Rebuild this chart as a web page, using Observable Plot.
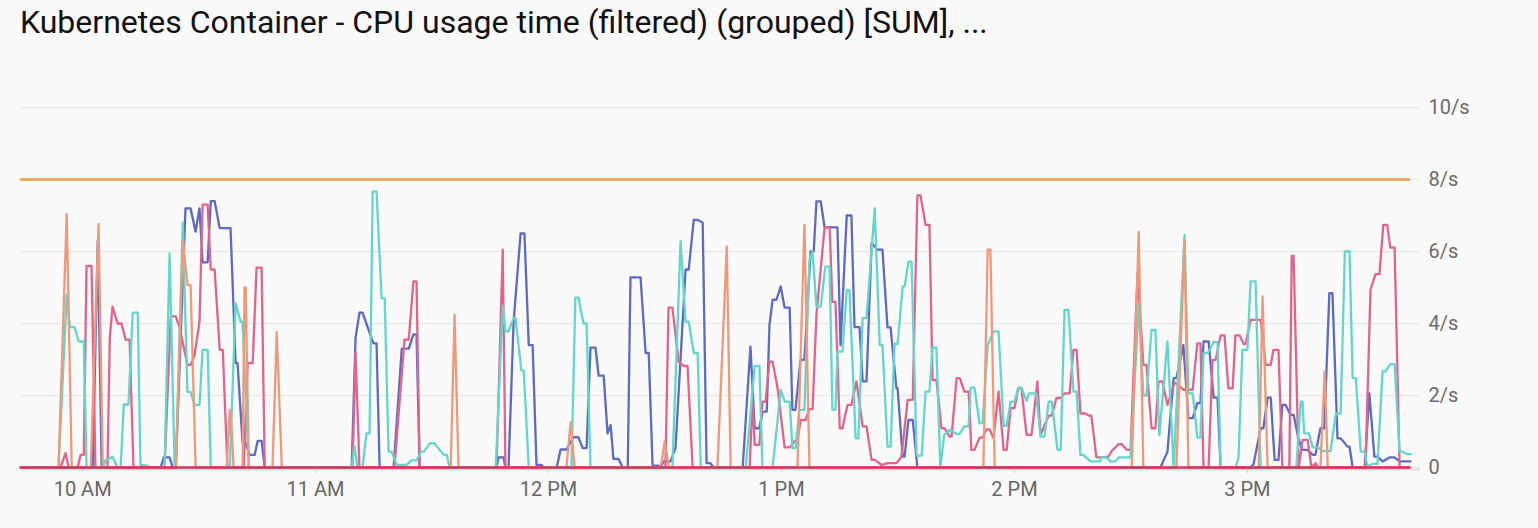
<!DOCTYPE html>
<html>
<head>
<meta charset="utf-8">
<script src="https://cdn.jsdelivr.net/npm/d3@7"></script>
<script src="https://cdn.jsdelivr.net/npm/@observablehq/plot@0.6"></script>
<style>
  html, body { margin: 0; padding: 0; background: #fafafa; }
  body { font-family: Roboto, "Noto Sans", sans-serif; width: 1538px; height: 528px; overflow: hidden; }
  #title { height: 50px; line-height: 44px; padding-left: 20px; font-size: 32px; color: #111; white-space: nowrap; }
  #chart svg { display: block; }
</style>
</head>
<body>
<div id="title">Kubernetes Container - CPU usage time (filtered) (grouped) [SUM], ...</div>
<div id="chart"></div>
<script>
// Time axis: minutes after 10:00 AM
const domainMinutes = [-16, 342];
const hourTickMinutes = [0, 60, 120, 180, 240, 300];
const yTickValues = [0, 2, 4, 6, 8, 10];
const limitValue = [8];
const floorValue = [0];

// Series: [minutes after 10 AM, CPU seconds per second]
const indigoSeries = [[-16,0],[2.6,0],[3.9,6.3],[4.9,0],[20.1,0],[20.9,0.28],[22.4,0.28],[23.2,0],[24.0,0],[26.5,7.2],[27.8,7.2],[29.1,6.55],[30.1,7.2],[30.9,5.7],[32.2,5.7],[33.0,7.4],[34.0,7.4],[35.3,6.65],[38.1,6.65],[39.4,2.9],[39.9,2.9],[41.2,0.68],[42.0,0.68],[43.0,0.35],[44.3,0.35],[45.1,0.74],[46.1,0.74],[46.9,0],[69.3,0],[70.3,3.6],[71.3,4.3],[72.1,4.3],[73.4,3.9],[74.9,3.45],[75.7,3.45],[76.5,0],[80.1,0],[82.2,3.3],[84.0,3.3],[85.2,3.7],[86.0,3.7],[86.8,0],[106.6,0],[107.1,0.28],[108.4,0.28],[108.9,0],[109.7,0],[111.0,4.05],[112.8,6.5],[113.8,6.5],[114.9,3.4],[115.9,3.4],[116.9,0.07],[118.2,0.07],[118.7,0],[122.1,0],[123.1,0.5],[124.6,0.5],[126.4,0.84],[127.7,0.84],[128.8,0.54],[129.8,0.54],[130.8,3.33],[132.1,3.33],[132.9,2.55],[134.2,2.55],[135.2,0.95],[136.0,1.18],[136.7,0.24],[138.0,0.24],[139.1,0],[140.4,0],[141.1,5.28],[143.7,5.28],[145.0,3.18],[145.8,3.18],[146.8,0.05],[148.3,0.05],[148.9,0],[149.6,0.17],[151.4,0.17],[152.7,0.54],[155.3,5.5],[156.1,5.5],[157.4,6.88],[158.4,6.88],[159.7,6.8],[160.7,0.12],[161.7,0.12],[162.5,0],[170.0,0],[172.0,3.36],[173.1,1.09],[174.3,1.09],[175.1,1.55],[176.2,1.55],[176.9,3.96],[177.7,4.66],[178.7,4.66],[179.8,5.03],[180.8,4.44],[182.1,4.44],[182.8,1.6],[183.6,1.6],[184.9,2.99],[185.9,2.99],[187.5,6.0],[188.3,6.0],[189.0,7.39],[190.1,7.39],[191.1,6.67],[194.4,6.67],[195.2,3.4],[196.8,7.0],[198.0,7.0],[198.8,3.9],[200.1,3.9],[200.9,2.39],[201.9,2.39],[203.2,6.23],[204.7,6.05],[206.0,6.05],[207.3,3.89],[208.1,3.89],[209.6,2.2],[209.9,2.2],[211.2,0.3],[211.7,0.3],[212.7,1.32],[213.8,1.32],[215.0,0],[277.6,0],[279.4,0.44],[281.0,2.48],[281.7,2.48],[283.5,3.4],[284.8,1.37],[285.9,1.37],[287.1,1.79],[287.9,1.79],[288.7,3.5],[290.0,3.5],[291.3,1.94],[292.3,1.94],[293.1,0],[300.8,0],[301.6,0.1],[303.4,1.09],[304.1,1.09],[305.2,1.94],[306.0,1.94],[307.0,0.21],[308.0,0.21],[309.0,1.74],[309.8,1.74],[311.1,1.46],[311.9,1.46],[313.2,0.77],[314.2,0.49],[315.5,0.49],[316.8,0.35],[317.5,0.35],[318.8,1.09],[319.8,1.09],[321.1,4.84],[321.9,4.84],[323.2,0.81],[324.0,0.81],[325.8,0.58],[326.3,0.58],[327.1,0],[330.2,0],[331.4,2.06],[332.7,0.3],[333.5,0.3],[334.8,0.17],[336.6,0.28],[337.9,0.28],[339.2,0.17],[342,0.17]];

const roseSeries = [[-16,0],[-5.7,0],[-4.4,0.4],[-3.6,0],[-1.3,0],[-0.5,0.35],[0.3,0.35],[1.0,5.6],[2.3,5.6],[3.3,0],[6.4,0],[7.0,3.6],[7.7,4.47],[9.0,4.0],[10.0,4.0],[11.1,3.55],[12.1,3.55],[13.1,0],[21.1,0],[22.7,4.2],[24.0,4.2],[25.0,3.87],[27.0,2.85],[27.8,2.85],[28.8,3.1],[30.1,4.05],[30.9,7.3],[32.2,7.3],[33.0,5.5],[34.0,5.5],[35.3,3.27],[36.1,3.27],[37.3,0],[41.5,0],[42.5,2.9],[43.8,2.9],[44.8,5.55],[46.1,5.55],[46.9,0],[69.5,0],[70.3,3.2],[71.3,0],[80.3,0],[82.9,3.55],[84.0,3.55],[85.2,5.17],[86.0,5.17],[86.8,0],[106.6,0],[108.2,6.05],[108.9,0],[150.1,0],[150.9,4.44],[151.9,4.44],[153.5,2.94],[154.8,2.82],[155.8,2.82],[157.1,0],[171.8,0],[172.5,1.83],[173.1,0.63],[174.3,0.63],[175.1,1.83],[175.9,1.83],[176.9,2.94],[177.7,2.94],[179.0,2.2],[180.8,0.56],[182.1,0.56],[183.4,0.74],[184.1,0.74],[184.9,1.32],[186.2,1.32],[187.2,1.62],[188.0,1.62],[189.0,4.24],[191.1,6.67],[192.4,6.67],[193.1,4.6],[193.9,4.6],[195.0,1.09],[195.7,1.09],[197.0,1.74],[198.0,1.74],[199.3,2.39],[200.9,1.14],[201.9,1.14],[203.2,0.21],[204.0,0.21],[205.8,0.07],[207.3,0.12],[209.6,0.12],[210.9,0.3],[212.5,1.88],[213.8,1.88],[215.0,7.56],[215.8,7.56],[217.1,6.74],[218.1,6.74],[218.9,2.43],[219.9,2.43],[221.2,1.09],[222.0,1.09],[223.3,0.86],[223.8,0.86],[225.1,2.48],[225.9,2.48],[227.1,2.11],[228.2,2.11],[228.9,0.49],[229.7,0.49],[231.0,0.83],[231.8,0.83],[232.8,1.06],[233.6,1.06],[234.6,0.81],[235.9,2.11],[237.2,0.49],[238.0,0.49],[239.0,1.65],[240.0,1.65],[241.0,2.2],[241.8,2.2],[243.1,0.91],[244.4,0.91],[245.9,2.39],[246.7,0.91],[248.8,1.44],[249.6,1.44],[250.8,1.93],[251.9,1.93],[252.9,2.06],[254.2,2.06],[255.2,3.27],[256.0,3.27],[257.0,1.5],[258.3,1.5],[259.1,1.44],[259.8,1.44],[261.1,0.28],[262.4,0.28],[264.2,0.3],[265.0,0.45],[266.8,0.65],[267.6,0.65],[268.9,0.49],[269.9,0.49],[271.7,5.4],[273.2,2.85],[274.0,2.85],[275.3,1.09],[276.3,1.09],[277.1,2.39],[278.1,2.39],[279.4,1.74],[281.2,2.34],[281.7,2.34],[283.5,2.16],[284.8,2.16],[285.9,2.16],[287.1,3.45],[287.9,3.45],[288.7,0],[290.0,0],[291.0,2.99],[291.8,2.99],[293.1,3.67],[294.1,3.67],[295.1,2.2],[296.2,2.2],[296.9,3.67],[298.0,3.67],[299.0,3.43],[299.5,3.43],[300.8,4.1],[303.4,4.1],[304.7,2.85],[306.0,2.85],[306.7,3.27],[308.0,3.27],[309.0,0],[310.8,0],[311.4,5.88],[311.9,5.88],[313.2,0],[314.2,0.77],[315.5,0.77],[316.5,0],[317.5,0.12],[318.3,0],[330.4,0],[331.7,4.94],[333.0,5.37],[334.0,5.37],[335.0,6.74],[336.0,6.74],[336.8,6.11],[337.9,6.11],[339.2,0],[342,0]];

const aquaSeries = [[-16,0],[-6.2,0],[-4.1,4.8],[-3.3,3.9],[-2.1,3.9],[-1.0,3.5],[0.3,3.5],[1.0,0],[5.2,0],[5.9,0.2],[7.7,0.3],[9.0,0],[9.8,0],[10.6,1.75],[11.8,1.75],[12.9,4.3],[14.2,4.3],[14.9,0.07],[16.7,0.05],[17.3,0],[21.1,0],[22.4,5.95],[23.7,0],[24.0,0],[25.8,6.8],[27.0,2.1],[27.8,2.1],[28.8,1.74],[30.1,1.74],[30.9,3.27],[32.2,3.27],[33.0,0],[37.9,0],[39.4,4.56],[40.7,4.05],[41.2,4.05],[42.8,0],[69.3,0],[70.0,0.6],[70.8,0],[72.1,0],[73.1,0.95],[73.9,0.95],[74.7,7.67],[75.7,7.67],[77.0,4.7],[77.8,4.7],[78.8,0.44],[79.6,0.44],[80.9,0.07],[83.4,0.07],[84.7,0.2],[86.0,0.2],[87.3,0.45],[88.0,0.45],[89.4,0.67],[90.6,0.67],[93.0,0.35],[93.8,0.35],[94.5,0],[106.4,0],[108.2,4.5],[108.9,3.78],[109.7,3.78],[111.0,4.15],[111.5,4.15],[113.0,2.7],[113.6,2.7],[114.9,0],[125.9,0],[126.9,4.72],[127.7,4.72],[129.0,4.0],[129.8,4.0],[130.8,0],[151.9,0],[154.0,6.28],[155.3,4.05],[156.1,4.05],[157.4,3.18],[158.4,3.18],[159.2,0],[170.8,0],[173.1,2.82],[174.3,2.82],[175.1,0],[177.7,0],[179.8,2.16],[180.8,1.83],[182.1,1.83],[182.8,0.54],[183.6,0.54],[184.6,1.6],[185.9,1.6],[187.2,5.77],[188.0,6.0],[189.0,4.47],[190.1,4.47],[191.3,5.58],[192.4,5.58],[193.1,1.6],[193.9,1.6],[194.4,3.22],[195.7,3.22],[196.8,4.93],[197.5,4.93],[199.1,0.81],[199.8,0.81],[200.9,4.15],[201.9,4.15],[204.0,7.2],[205.3,3.4],[206.0,3.4],[207.3,0.58],[208.1,0.58],[209.1,3.43],[209.9,3.43],[211.2,5.03],[211.7,5.03],[212.7,5.72],[213.5,5.72],[214.8,0.33],[216.1,0.33],[217.1,2.11],[218.1,2.11],[218.9,3.33],[219.9,3.33],[220.9,0],[221.9,0.9],[223.3,1.05],[225.1,0.93],[225.9,0.93],[227.1,1.14],[228.2,1.14],[228.7,2.22],[229.7,2.22],[231.0,1.23],[231.8,1.23],[233.1,3.4],[234.6,3.78],[235.9,3.78],[237.2,1.16],[238.0,1.16],[239.0,1.83],[240.0,1.83],[241.0,2.22],[241.8,2.22],[243.1,1.85],[243.8,2.06],[245.6,2.06],[246.7,0.86],[247.7,0.86],[248.8,1.83],[249.6,1.83],[251.1,0.49],[251.9,0.49],[252.9,4.38],[253.9,4.38],[255.2,2.11],[256.0,2.11],[257.0,0.35],[257.7,0.35],[259.6,0.17],[262.1,0.17],[262.4,0.28],[263.7,0.28],[264.7,0.17],[266.0,0.17],[266.8,0.28],[269.9,0.28],[272.0,4.5],[273.2,2.0],[274.0,2.0],[275.3,3.82],[276.3,3.82],[277.3,0.9],[279.4,3.5],[281.0,0],[283.8,6.46],[284.8,2.06],[285.9,2.06],[287.1,0.83],[287.9,0.83],[288.7,3.18],[289.8,3.18],[291.3,3.48],[292.3,3.48],[293.1,0],[296.9,0],[297.7,0.26],[298.7,3.27],[300.0,3.27],[300.8,5.17],[302.1,5.17],[303.4,0],[312.6,0],[313.7,1.83],[314.2,1.83],[314.6,0.95],[315.8,0.95],[316.8,0.56],[318.1,0.56],[319.4,0.46],[321.4,0.46],[322.8,1.5],[324.0,1.5],[325.1,6.0],[326.3,6.0],[327.1,2.48],[327.9,2.48],[329.2,0.44],[330.2,0.44],[330.9,0.03],[332.2,0.1],[333.5,0.1],[334.8,2.67],[335.6,2.67],[336.8,2.87],[337.9,2.87],[339.2,0.44],[339.9,0.44],[341.2,0.37],[342,0.37]];

const salmonSeries = [[-16,0],[-6.2,0],[-4.1,7.04],[-2.8,0],[2.1,0],[4.1,6.76],[5.2,0],[24.0,0],[25.8,6.3],[27.0,5.07],[27.8,5.07],[29.1,0],[37.1,0],[37.9,1.6],[38.1,1.6],[38.9,0],[41.2,0],[41.7,5.0],[42.0,5.0],[42.8,0],[48.9,0],[50.0,3.76],[51.3,0],[94.8,0],[95.8,4.24],[96.8,0],[124.6,0],[125.7,1.26],[126.7,0],[148.9,0],[149.9,0.72],[151.0,0],[163.5,0],[165.9,6.14],[166.9,0],[184.1,0],[185.9,6.74],[187.2,0],[232.0,0],[233.1,6.05],[233.8,6.05],[234.9,0],[270.2,0],[272.0,6.54],[273.2,0],[281.7,0],[283.8,6.32],[284.8,0],[302.9,0],[303.9,4.75],[305.2,0],[318.8,0],[319.9,2.67],[320.7,0],[342,0]];

const baseTime = new Date(2024, 0, 15, 10, 0, 0);
const toDate = m => new Date(baseTime.getTime() + m * 60000);
const rows = s => s.map(([m, v]) => ({time: toDate(m), value: v}));

const colors = {indigo: "#5c6bc0", rose: "#e3638c", aqua: "#62d6cb", salmon: "#f0987a", limit: "#ef9a3e", floor: "#d2345c"};
const lineWidth = 2.3;

const chart = Plot.plot({
  width: 1538,
  height: 478,
  marginLeft: 20,
  marginRight: 128,
  marginTop: 57,
  marginBottom: 61,
  style: {background: "#fafafa", fontFamily: "Roboto, sans-serif", overflow: "visible"},
  x: {type: "time", domain: domainMinutes.map(toDate)},
  y: {domain: [0, 10]},
  marks: [
    Plot.gridY(yTickValues, {stroke: "#e9e9e9", strokeOpacity: 1, strokeWidth: 1.5, insetRight: -10}),
    Plot.ruleY(floorValue, {stroke: "#dedede", strokeWidth: 2, dy: 2, insetRight: -10}),
    Plot.axisX(hourTickMinutes.map(toDate), {tickSize: 6, tickPadding: 8, stroke: "#d0d0d0", fill: "#666", fontSize: 20, label: null, tickFormat: d3.timeFormat("%-I %p")}),
    Plot.axisY(yTickValues, {anchor: "right", tickSize: 0, tickPadding: 18, fill: "#6a6a6a", fontSize: 20, label: null, textAnchor: "start", tickFormat: d => d === 0 ? "0" : `${d}/s`}),
    Plot.line(rows(indigoSeries), {x: "time", y: "value", stroke: colors.indigo, strokeWidth: lineWidth}),
    Plot.line(rows(roseSeries), {x: "time", y: "value", stroke: colors.rose, strokeWidth: lineWidth}),
    Plot.line(rows(aquaSeries), {x: "time", y: "value", stroke: colors.aqua, strokeWidth: lineWidth}),
    Plot.line(rows(salmonSeries), {x: "time", y: "value", stroke: colors.salmon, strokeWidth: lineWidth}),
    Plot.ruleY(limitValue, {stroke: colors.limit, strokeWidth: 2.5}),
    Plot.ruleY(floorValue, {stroke: colors.floor, strokeWidth: 2.5})
  ]
});
document.getElementById("chart").appendChild(chart);
</script>
</body>
</html>
